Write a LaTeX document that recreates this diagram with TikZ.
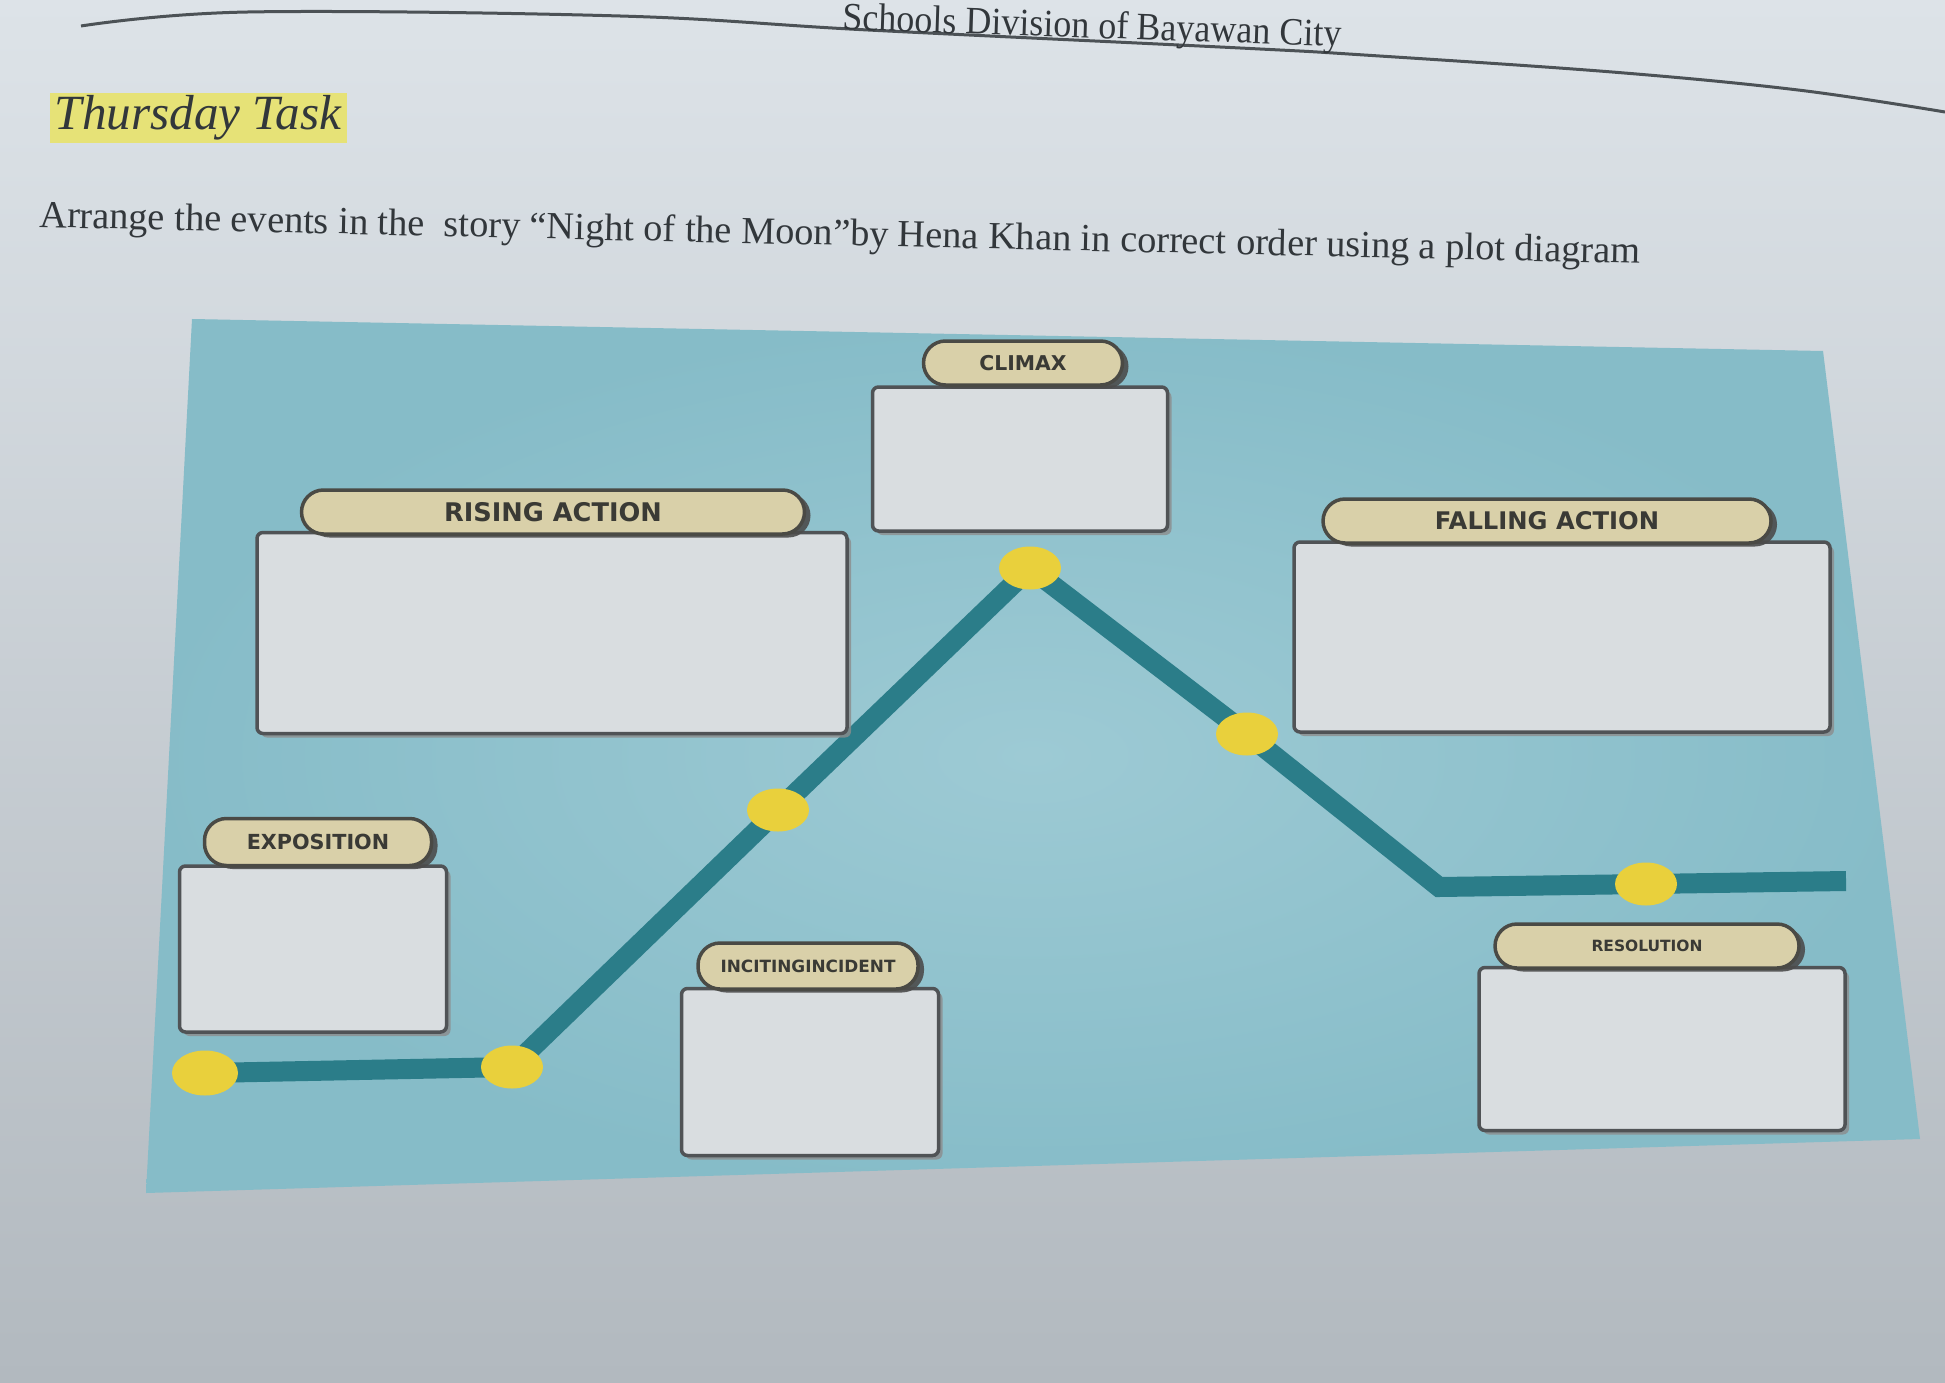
\documentclass[tikz,border=0pt]{standalone}
\usepackage{fontspec}
\setmainfont{Liberation Serif}
\newfontfamily\labfont{DejaVu Sans}
\usetikzlibrary{shapes.geometric,shadows}
\definecolor{pagetop}{HTML}{DDE3E8}
\definecolor{pagemid}{HTML}{CDD4DA}
\definecolor{pagebot}{HTML}{B2B9BF}
\definecolor{panelin}{HTML}{9DCAD4}
\definecolor{panelout}{HTML}{86BCC8}
\definecolor{linecol}{HTML}{2B7D89}
\definecolor{dotcol}{HTML}{E9D03C}
\definecolor{pillfill}{HTML}{D9D0A9}
\definecolor{pillborder}{HTML}{4A4A45}
\definecolor{boxfill}{HTML}{D9DDE0}
\definecolor{boxborder}{HTML}{505356}
\definecolor{labtext}{HTML}{3A3A35}
\definecolor{hlcol}{HTML}{E6E277}
\definecolor{inktext}{HTML}{32373B}
\definecolor{rulecol}{HTML}{4C5256}
\pgfdeclarelayer{bg}
\pgfdeclarelayer{lines}
\pgfsetlayers{bg,lines,main}
\begin{document}
\begin{tikzpicture}[x=0.1mm,y=-0.1mm,
  pill/.style={draw=pillborder, line width=0.35mm, fill=pillfill, rounded corners=2.2mm,
    minimum height=4.4mm, inner sep=0pt, text=labtext,
    drop shadow={shadow xshift=0.6mm, shadow yshift=-0.35mm, fill=black!70, opacity=0.9}},
  lab/.style={font=\labfont\bfseries\fontsize{#1}{#1}\selectfont},
  answerbox/.style={draw=boxborder, line width=0.35mm, fill=boxfill, rounded corners=0.6mm,
    inner sep=0pt, drop shadow={shadow xshift=0.4mm, shadow yshift=-0.4mm, fill=black!45, opacity=0.8}},
  dot/.style={ellipse, fill=dotcol, minimum width=6.2mm, minimum height=4.3mm, inner sep=0pt},
  plotline/.style={draw=linecol, line width=2mm}
]
\useasboundingbox (0,0) rectangle (1945,1382);
\begin{pgfonlayer}{bg}
  \shade[top color=pagetop, middle color=pagemid, bottom color=pagebot] (0,0) rectangle (1945,1382);
  \shade[inner color=panelin, outer color=panelout] (192,319) -- (1823,351) -- (1920,1139) -- (146,1193) -- cycle;
\end{pgfonlayer}

% header
\draw[rulecol, line width=0.3mm] plot[smooth, tension=0.6] coordinates
  {(81,26) (248,12) (620,16) (868,30) (1240,48) (1364,55) (1612,72) (1798,90) (1945,112)};
\node[rotate=-1.9, text=inktext, font=\fontsize{11}{12}\selectfont, xscale=0.93, anchor=base] (hdr) at (1092,38) {Schools Division of Bayawan City};

% title and instruction
\node[fill=hlcol, minimum width=29.7mm, minimum height=5mm, inner sep=0pt,
  font=\itshape\fontsize{14}{16}\selectfont, text=inktext] (title) at (198,118) {Thursday Task};
\node[rotate=-1.3, text=inktext, font=\fontsize{10.9}{12}\selectfont] (instr) at (840,236)
  {Arrange the events in the\ \ story “Night of the Moon”by Hena Khan in correct order using a plot diagram};

% label pills and answer boxes
\node[answerbox, minimum width=29.5mm, minimum height=14.4mm] (climaxB) at (1020,459) {};
\node[pill, lab=5.8, minimum width=19.9mm] (climaxL) at (1023,363) {CLIMAX};
\node[answerbox, minimum width=59mm, minimum height=20.1mm] (risingB) at (552,633) {};
\node[pill, lab=7.3, minimum width=50.3mm] (risingL) at (553,512) {RISING ACTION};
\node[answerbox, minimum width=53.6mm, minimum height=19mm] (fallingB) at (1562,637) {};
\node[pill, lab=6.9, minimum width=44.8mm] (fallingL) at (1547,521) {FALLING ACTION};
\node[answerbox, minimum width=26.7mm, minimum height=16.6mm] (expoB) at (313,949) {};
\node[pill, lab=5.9, minimum width=22.7mm, minimum height=4.7mm] (expoL) at (318,842) {EXPOSITION};
\node[answerbox, minimum width=25.7mm, minimum height=16.7mm] (incB) at (810,1072) {};
\node[pill, lab=4.8, minimum width=22mm, minimum height=4.6mm] (incL) at (808,966) {INCITINGINCIDENT};
\node[answerbox, minimum width=36.6mm, minimum height=16.3mm] (resB) at (1662,1049) {};
\node[pill, lab=4.4, minimum width=30.4mm] (resL) at (1647,946) {RESOLUTION};

% plot points
\node[dot, minimum width=6.6mm, minimum height=4.5mm] (d1) at (205,1073) {};
\node[dot] (d2) at (512,1067) {};
\node[dot] (d3) at (778,810) {};
\node[dot] (d4) at (1030,568) {};
\node[dot] (d5) at (1247,734) {};
\coordinate (bend) at (1439,887);
\node[dot] (d6) at (1646,884) {};
\coordinate (lineend) at (1846,881);
\begin{pgfonlayer}{lines}
  \draw[plotline] (d1.center) -- (d2.center) -- (d3.center) -- (d4.center) -- (d5.center)
    -- (bend) -- (d6.center) -- (lineend);
\end{pgfonlayer}
\end{tikzpicture}
\end{document}
